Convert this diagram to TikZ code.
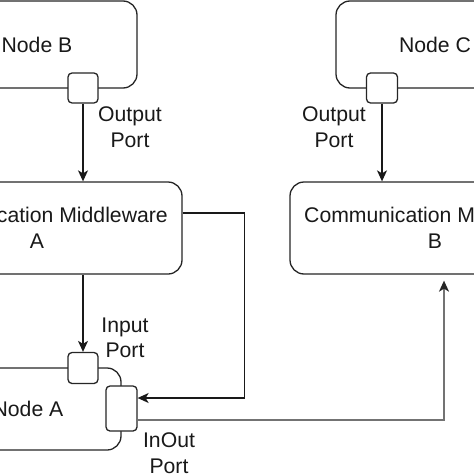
\documentclass[tikz,border=0pt]{standalone}
\usepackage{fontspec}
\setmainfont{Liberation Sans}
\usetikzlibrary{arrows.meta}
\begin{document}
\begin{tikzpicture}[x=1pt,y=-1pt,
  every node/.style={font=\fontsize{21.2}{25.5}\selectfont, text=black!90},
  box/.style={draw=black!85, line width=1.3pt, rounded corners=14pt, fill=white, inner sep=0pt, align=center},
  portbox/.style={draw=black!85, line width=1.3pt, rounded corners=4pt, fill=white, inner sep=0pt},
  lbl/.style={align=center, inner sep=0pt},
  conn/.style={line width=1.3pt, draw=black!90, -{Stealth[length=11pt,width=10pt,inset=3pt]}},
  gconn/.style={line width=1.6pt, draw=black!55, -{Stealth[length=11pt,width=10pt,inset=3pt,color=black!85]}}
]
\useasboundingbox (0,0) rectangle (474,474);
% main nodes
\node[box, minimum width=200pt, minimum height=87pt] (nodeB) at (37,44.5) {Node B};
\node[box, minimum width=198pt, minimum height=87pt] (nodeC) at (435,44.5) {Node C};
\node[box, minimum width=290pt, minimum height=92pt] (mwA) at (37,228) {Communication Middleware\\A};
\node[box, minimum width=290pt, minimum height=92pt] (mwB) at (435,228) {Communication Middleware\\B};
\node[box, minimum width=186pt, minimum height=82pt] (nodeA) at (28,409) {Node A};
% ports
\node[portbox, minimum width=30pt, minimum height=30pt] (portB) at (83,88) {};
\node[portbox, minimum width=31pt, minimum height=30pt] (portC) at (382,88) {};
\node[portbox, minimum width=30pt, minimum height=31pt] (portIn) at (83,368) {};
\node[portbox, minimum width=31pt, minimum height=45pt] (portIO) at (121.5,408.5) {};
% labels
\node[lbl] (lOutB) at (130,127) {Output\\Port};
\node[lbl] (lOutC) at (334,127) {Output\\Port};
\node[lbl] (lIn) at (125,338) {Input\\Port};
\node[lbl] (lIO) at (169,453) {InOut\\Port};
% connectors
\draw[conn] (portB.south) -- (portB.south |- mwA.north);
\draw[conn] (portC.south) -- (portC.south |- mwB.north);
\draw[conn] (mwA.south -| portIn.north) -- (portIn.north);
\draw[conn] ([yshift=15pt]mwA.east) -- ++(62,0) |- ([yshift=10.5pt]portIO.east);
\draw[gconn] ([yshift=-11.5pt]portIO.east) -| ([xshift=9pt,yshift=-6pt]mwB.south);
\end{tikzpicture}
\end{document}
